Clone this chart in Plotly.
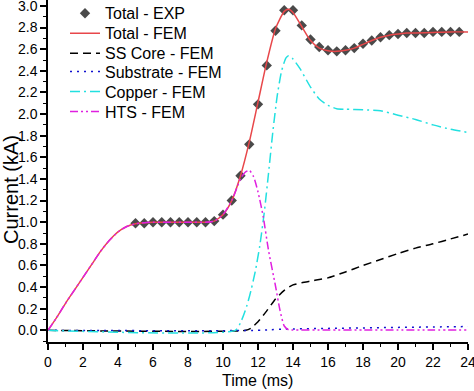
import plotly.graph_objects as go

# ---------------- data ----------------
exp_t = [5, 5.5, 6, 6.5, 7, 7.5, 8, 8.5, 9, 9.5, 10, 10.5, 11, 11.5, 12, 12.5, 13,
         13.5, 14, 14.5, 15, 15.5, 16, 16.5, 17, 17.5, 18, 18.5, 19, 19.5, 20,
         20.5, 21, 21.5, 22, 22.5, 23, 23.5]
exp_total = [0.99, 0.99, 1.0, 1.0, 1.0, 1.0, 1.0, 1.0, 1.0, 1.01, 1.07, 1.20, 1.43,
             1.72, 2.09, 2.45, 2.77, 2.96, 2.96, 2.82, 2.69, 2.62, 2.59, 2.58,
             2.59, 2.61, 2.65, 2.68, 2.71, 2.73, 2.74, 2.75, 2.75, 2.75, 2.76,
             2.76, 2.76, 2.76]

fem_t = [0, 0.5, 1, 1.5, 2, 2.5, 3, 3.5, 4, 4.5, 5, 5.5, 6, 7, 8, 9, 9.5, 10,
         10.5, 11, 11.5, 12, 12.5, 13, 13.5, 13.75, 14, 14.5, 15, 15.5, 16,
         16.5, 17, 17.5, 18, 18.5, 19, 19.5, 20, 20.5, 21, 22, 23, 24]
fem_total = [0, 0.12, 0.25, 0.37, 0.49, 0.61, 0.73, 0.83, 0.91, 0.96, 0.985, 0.995,
             1.0, 1.0, 1.0, 1.0, 1.01, 1.07, 1.20, 1.43, 1.74, 2.11, 2.48, 2.79,
             2.95, 2.97, 2.94, 2.81, 2.68, 2.61, 2.585, 2.58, 2.59, 2.61, 2.645,
             2.68, 2.71, 2.73, 2.74, 2.75, 2.75, 2.755, 2.76, 2.76]

ss_t = [0, 11.3, 11.6, 12, 12.5, 13, 13.5, 14, 14.5, 15, 15.5, 16, 17, 18, 19, 20,
        21, 22, 23, 24]
ss_core = [0, 0, 0.02, 0.08, 0.18, 0.29, 0.37, 0.42, 0.44, 0.455, 0.47, 0.485,
           0.54, 0.60, 0.655, 0.71, 0.76, 0.80, 0.845, 0.89]

sub_t = [0, 12, 13, 14, 16, 18, 20, 22, 24]
substrate = [0, 0, 0.008, 0.013, 0.018, 0.022, 0.027, 0.031, 0.035]

cu_t = [0, 10.7, 11, 11.35, 11.6, 11.85, 12.1, 12.35, 12.6, 12.85, 13.1, 13.35,
        13.6, 13.75, 14, 14.4, 15, 15.5, 16, 16.5, 17, 18, 19, 20, 21, 22, 23, 24]
copper = [0, 0, 0.07, 0.22, 0.37, 0.55, 0.78, 1.08, 1.45, 1.84, 2.17, 2.40,
          2.52, 2.54, 2.51, 2.42, 2.25, 2.14, 2.08, 2.05, 2.045, 2.04, 2.03,
          1.99, 1.95, 1.90, 1.86, 1.83]

hts_t = [0, 0.5, 1, 1.5, 2, 2.5, 3, 3.5, 4, 4.5, 5, 5.5, 6, 7, 8, 9, 9.5, 10,
         10.5, 11, 11.25, 11.5, 11.75, 12, 12.3, 12.6, 13, 13.25, 13.5, 13.75,
         14, 16, 18, 20, 22, 24]
hts = [0, 0.12, 0.25, 0.37, 0.49, 0.61, 0.73, 0.83, 0.91, 0.96, 0.985, 0.995,
       1.0, 1.0, 1.0, 1.0, 1.01, 1.07, 1.20, 1.40, 1.46, 1.48, 1.42, 1.28, 1.05,
       0.74, 0.41, 0.19, 0.04, 0.005, 0.003, 0.004, 0.004, 0.004, 0.004, 0.004]

x_ticks = list(range(0, 25, 2))
y_ticks = [round(0.2 * i, 1) for i in range(16)]
y_tick_labels = [f"{v:.1f}" for v in y_ticks]

names = ["Total - EXP", "Total - FEM", "SS Core - FEM", "Substrate - FEM",
         "Copper - FEM", "HTS - FEM"]

# ---------------- figure ----------------
W, H = 474, 391
ML, MR, MT, MB = 48, 6, 0, 49
PW = W - ML - MR
PH = H - MT - MB

FONT = "Liberation Sans, Arial, sans-serif"

fig = go.Figure()

fig.add_trace(go.Scatter(
    x=exp_t, y=exp_total, mode="markers", name=names[0], legend="legend",
    marker=dict(symbol="diamond", size=8, color="#4a4a4a",
                line=dict(width=0))))

fig.add_trace(go.Scatter(
    x=ss_t, y=ss_core, mode="lines", name=names[2], legend="legend3",
    line=dict(color="black", width=1.5, dash="8px,5px", shape="spline",
              smoothing=0.6)))

fig.add_trace(go.Scatter(
    x=sub_t, y=substrate, mode="lines", name=names[3], legend="legend4",
    line=dict(color="#1010d0", width=1.5, dash="2px,5px", shape="spline")))

fig.add_trace(go.Scatter(
    x=cu_t, y=copper, mode="lines", name=names[4], legend="legend5",
    line=dict(color="#22e0e0", width=1.5, dash="10px,4px,2px,4px",
              shape="spline", smoothing=0.6)))

fig.add_trace(go.Scatter(
    x=fem_t, y=fem_total, mode="lines", name=names[1], legend="legend2",
    line=dict(color="#e8474a", width=1.5, shape="spline", smoothing=0.6)))

fig.add_trace(go.Scatter(
    x=hts_t, y=hts, mode="lines", name=names[5], legend="legend6",
    line=dict(color="#e020e0", width=1.5, dash="8px,3px,2px,3px,2px,3px",
              shape="spline", smoothing=0.6)))

# one legend per entry so that the row spacing can follow the reference
row_centers_px = [13.3, 33.3, 53.3, 71.7, 91.7, 111.7]
leg_x = (65 - ML) / PW
legends = {}
for i, yc in enumerate(row_centers_px):
    key = "legend" if i == 0 else f"legend{i + 1}"
    legends[key] = dict(
        x=leg_x, xanchor="left", y=1 - (yc - MT) / PH, yanchor="middle",
        bgcolor="rgba(0,0,0,0)", borderwidth=0,
        font=dict(family=FONT, size=16, color="black"))

fig.update_layout(
    width=W, height=H,
    margin=dict(l=ML, r=MR, t=MT, b=MB, pad=0, autoexpand=False),
    paper_bgcolor="white", plot_bgcolor="white",
    font=dict(family=FONT, size=14, color="black"),
    showlegend=True,
    **legends,
    annotations=[
        dict(text="Current (kA)", textangle=-90, xref="paper", yref="paper",
             x=(11 - ML) / PW, y=1 - (190 - MT) / PH,
             xanchor="center", yanchor="middle", showarrow=False,
             font=dict(family=FONT, size=20, color="black")),
        dict(text="Time (ms)", xref="paper", yref="paper",
             x=(257 - ML) / PW, y=1 - (380 - MT) / PH,
             xanchor="center", yanchor="middle", showarrow=False,
             font=dict(family=FONT, size=16, color="black")),
    ],
)

fig.update_xaxes(
    range=[0, 24], tickvals=x_ticks, ticktext=[str(v) for v in x_ticks],
    automargin=False, ticklabeloverflow="allow",
    showline=True, linecolor="black", linewidth=1.5, mirror=False,
    ticks="outside", ticklen=6, tickwidth=1.5, tickcolor="black",
    minor=dict(dtick=1, ticks="outside", ticklen=3.5, tickwidth=1.2,
               tickcolor="black"),
    showgrid=False, zeroline=False,
    tickfont=dict(family=FONT, size=14, color="black"),
)
fig.update_yaxes(
    range=[-0.108, 3.055], tickvals=y_ticks, ticktext=y_tick_labels,
    automargin=False, ticklabeloverflow="allow",
    showline=True, linecolor="black", linewidth=1.5, mirror=False,
    ticks="outside", ticklen=6, tickwidth=1.5, tickcolor="black",
    minor=dict(dtick=0.1, tick0=0, ticks="outside", ticklen=3.5, tickwidth=1.2,
               tickcolor="black"),
    showgrid=False, zeroline=False,
    tickfont=dict(family=FONT, size=14, color="black"),
)

fig.write_html(
    "out.html",
    config={"displayModeBar": False},
    post_script="document.body.style.margin='0';"
                "document.body.style.overflow='hidden';",
)
